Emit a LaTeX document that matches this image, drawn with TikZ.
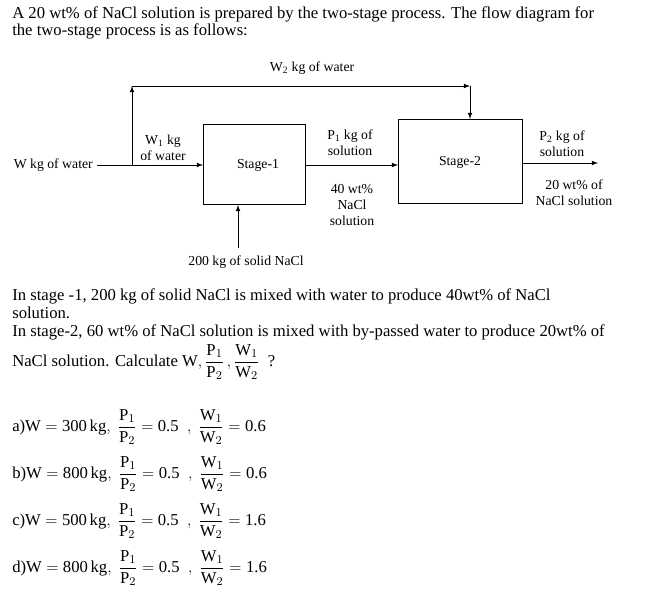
\documentclass[tikz,border=0pt]{standalone}
\usepackage{fontspec}
\setmainfont{Liberation Serif}
\newcommand{\tx}[1]{\hbox{#1}}
\newcommand{\fr}[2]{{\displaystyle\frac{\tx{#1}}{\tx{#2}}}}
\begin{document}
\begin{tikzpicture}[x=0.75pt,y=-0.75pt,
  lab/.style={font=\fontsize{10.3}{12}\selectfont,inner sep=0pt,align=center},
  txt/.style={font=\fontsize{12.5}{15}\selectfont,inner sep=0pt,anchor=west},
  arr/.style={->,>=latex,line width=0.6pt}]
\useasboundingbox (0,0) rectangle (647,598);
\node[txt] (h1) at (12,14) {A 20 wt\% of NaCl solution is prepared by the two-stage process. The flow diagram for};
\node[txt] (h2) at (12,31) {the two-stage process is as follows:};
% boxes
\draw[line width=0.6pt] (203,124) rectangle (305,204);
\node[lab] (s1l) at (258,165) {Stage-1};
\draw[line width=0.6pt] (398,119) rectangle (522,203);
\node[lab] (s2l) at (460,162) {Stage-2};
\coordinate (b1w) at (203,165); \coordinate (b1e) at (305,165);
\coordinate (b2w) at (398,165); \coordinate (b2e) at (522,163);
\coordinate (b2n) at (470,119); \coordinate (b1s) at (238,205);
\node[lab,anchor=east] (w) at (93,165) {W kg of water};
\coordinate (br) at (132,165); \coordinate (tl) at (132,86); \coordinate (tr) at (470,86);
\draw[line width=0.6pt] (w.east) ++(3pt,0) -- (br);
\draw[arr] (br) -- (b1w);
\draw[arr] (br) -- (tl);
\draw[arr] (tl) -- (tr);
\draw[arr] (tr) -- (b2n);
\draw[arr] (b1e) -- (b2w);
\coordinate (out) at (598,163);
\draw[arr] (b2e) -- (out);
\coordinate (salt) at (238,248);
\draw[arr] (salt) -- (b1s);
\node[lab] (w2) at (312,68) {W\textsubscript{2} kg of water};
\node[lab] (w1) at (163,148) {W\textsubscript{1} kg\\of water};
\node[lab] (p1) at (350,143) {P\textsubscript{1} kg of\\solution};
\node[lab] (c1) at (352,205) {40 wt\%\\NaCl\\solution};
\node[lab] (p2) at (562,144) {P\textsubscript{2} kg of\\solution};
\node[lab] (c2) at (574,193) {20 wt\% of\\NaCl solution};
\node[lab] (na) at (246,262) {200 kg of solid NaCl};
% text
\node[txt] (t1) at (12,296) {In stage -1, 200 kg of solid NaCl is mixed with water to produce 40wt\% of NaCl};
\node[txt] (t2) at (12,313) {solution.};
\node[txt] (t3) at (12,332) {In stage-2, 60 wt\% of NaCl solution is mixed with by-passed water to produce 20wt\% of};
\node[txt] (t4) at (12,362) {NaCl solution. Calculate $\tx{W},\fr{P$_1$}{P$_2$}\,,\fr{W$_1$}{W$_2$}$\ \ ?};
\node[txt] (oa) at (12,427) {a)$\tx{W}=\tx{300}\,\tx{kg},\ \fr{P$_1$}{P$_2$}=\tx{0.5}\ \ ,\ \fr{W$_1$}{W$_2$}=\tx{0.6}$};
\node[txt] (ob) at (12,474) {b)$\tx{W}=\tx{800}\,\tx{kg},\ \fr{P$_1$}{P$_2$}=\tx{0.5}\ \ ,\ \fr{W$_1$}{W$_2$}=\tx{0.6}$};
\node[txt] (oc) at (12,521) {c)$\tx{W}=\tx{500}\,\tx{kg},\ \fr{P$_1$}{P$_2$}=\tx{0.5}\ \ ,\ \fr{W$_1$}{W$_2$}=\tx{1.6}$};
\node[txt] (od) at (12,568) {d)$\tx{W}=\tx{800}\,\tx{kg},\ \fr{P$_1$}{P$_2$}=\tx{0.5}\ \ ,\ \fr{W$_1$}{W$_2$}=\tx{1.6}$};
\end{tikzpicture}
\end{document}
